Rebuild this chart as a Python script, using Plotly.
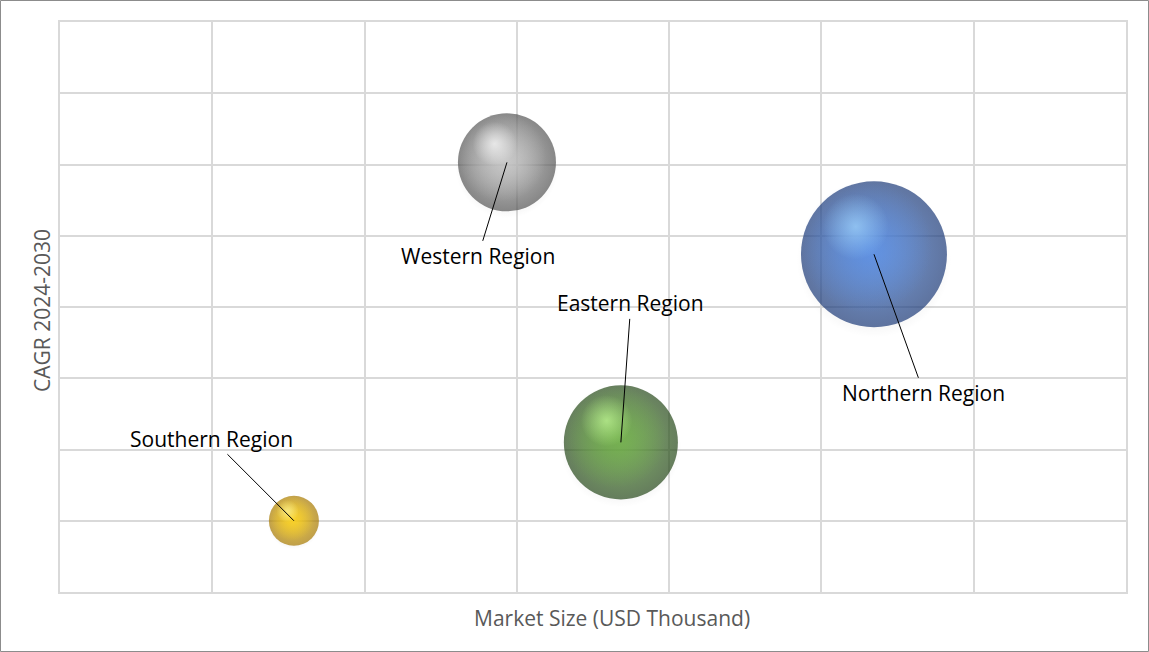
import numpy as np
import plotly.graph_objects as go

# ---- data ----
regions = ["Southern Region", "Western Region", "Eastern Region", "Northern Region"]
market_size = [1.536, 2.935, 3.683, 5.345]      # x (USD Thousand, unlabeled scale)
cagr = [1.00, 6.03, 2.10, 4.74]                  # y (CAGR 2024-2030, unlabeled scale)
bubble_value = [2.5, 9.6, 13.0, 21.3]            # bubble size values

# ---- styles ----
base_cols = ["#ffcc00", "#c4c4c4", "#62a83c", "#4f86e0"]
dark_cols = ["#a67800", "#555555", "#26481a", "#1c3a78"]
mid_rgb = [(255, 212, 30), (200, 200, 200), (110, 175, 68), (85, 140, 230)]
hi_rgb = [(255, 250, 165), (255, 255, 255), (200, 255, 155), (165, 218, 255)]

W, H = 1149, 652
ML, MR, MT, MB = 60, 23, 22, 60
PW, PH = W - ML - MR, H - MT - MB
XR, YR = [0, 7], [0, 8]
px_x = PW / (XR[1] - XR[0])
px_y = PH / (YR[1] - YR[0])

x = np.array(market_size)
y = np.array(cagr)
v = np.array(bubble_value)
diam = 146 * np.sqrt(v / v.max())
r = diam / 2

def shift(dx_px, dy_px):
    return x + dx_px / px_x, y - dy_px / px_y

fig = go.Figure()

# soft shadow
sx, sy = shift(0 * r, 0.08 * r)
fig.add_trace(go.Scatter(
    x=sx, y=sy, mode="markers", hoverinfo="skip", showlegend=False,
    marker=dict(size=diam * 1.06, color="rgba(0,0,0,0)", line=dict(width=0),
                gradient=dict(type="radial", color="rgba(0,0,0,0.3)"))))

# base sphere
fig.add_trace(go.Scatter(
    x=x, y=y, mode="markers", showlegend=False, text=regions, hoverinfo="text",
    marker=dict(size=diam, color=dark_cols, line=dict(width=0),
                gradient=dict(type="radial", color=base_cols))))

# body shading offset up-left
bx, by = shift(-0.1 * r, -0.1 * r)
fig.add_trace(go.Scatter(
    x=bx, y=by, mode="markers", hoverinfo="skip", showlegend=False,
    marker=dict(size=diam * 0.9, line=dict(width=0),
                color=["rgba(%d,%d,%d,0)" % c for c in mid_rgb],
                gradient=dict(type="radial", color=["rgba(%d,%d,%d,1)" % c for c in mid_rgb]))))

# specular highlight
hx, hy = shift(-0.25 * r, -0.38 * r)
fig.add_trace(go.Scatter(
    x=hx, y=hy, mode="markers", hoverinfo="skip", showlegend=False,
    marker=dict(size=diam * 0.45, line=dict(width=0),
                color=["rgba(%d,%d,%d,0)" % c for c in hi_rgb],
                gradient=dict(type="radial", color=["rgba(%d,%d,%d,0.95)" % c for c in hi_rgb]))))

# labels with leader lines (pixel offsets of text from the bubble centre)
label_off = [(-82, -82), (-29, 94), (10, -139), (50, 139)]
for name, xi, yi, (ax, ay) in zip(regions, market_size, cagr, label_off):
    fig.add_annotation(x=xi, y=yi, ax=ax, ay=ay, text=name, showarrow=True,
                       arrowhead=0, arrowwidth=1, arrowcolor="#000000",
                       font=dict(family="Open Sans", size=21, color="#000000"))

# axis titles
fig.add_annotation(xref="paper", yref="paper", x=(612 - ML) / PW, y=-(618 - MT - PH) / PH,
                   xanchor="center", yanchor="middle",
                   text="Market Size (USD Thousand)", showarrow=False,
                   font=dict(family="Open Sans", size=21, color="#595959"))
fig.add_annotation(xref="paper", yref="paper", x=(42 - ML) / PW, y=(MT + PH - 311) / PH,
                   xanchor="center", yanchor="middle",
                   text="CAGR 2024-2030", showarrow=False, textangle=-90,
                   font=dict(family="Open Sans", size=21, color="#595959"))

# outer border
fig.add_shape(type="rect", xref="paper", yref="paper",
              x0=(0.5 - ML) / PW, x1=(W - 0.5 - ML) / PW,
              y0=-(H - 0.5 - MT - PH) / PH, y1=1 + (MT - 0.5) / PH,
              line=dict(color="#8c8c8c", width=1))

axis_common = dict(showticklabels=False, ticks="", showgrid=True, gridcolor="#d9d9d9",
                   gridwidth=1.5, zeroline=False, showline=True, mirror=True,
                   linecolor="#d9d9d9", linewidth=1.5, dtick=1, fixedrange=True)
fig.update_xaxes(range=XR, **axis_common)
fig.update_yaxes(range=YR, **axis_common)
fig.update_layout(width=W, height=H, margin=dict(l=ML, r=MR, t=MT, b=MB),
                  paper_bgcolor="white", plot_bgcolor="white",
                  font=dict(family="Open Sans"))

fig.write_html("out.html", config={"displayModeBar": False},
               post_script="document.body.style.margin='0px';document.body.style.overflow='hidden';")
